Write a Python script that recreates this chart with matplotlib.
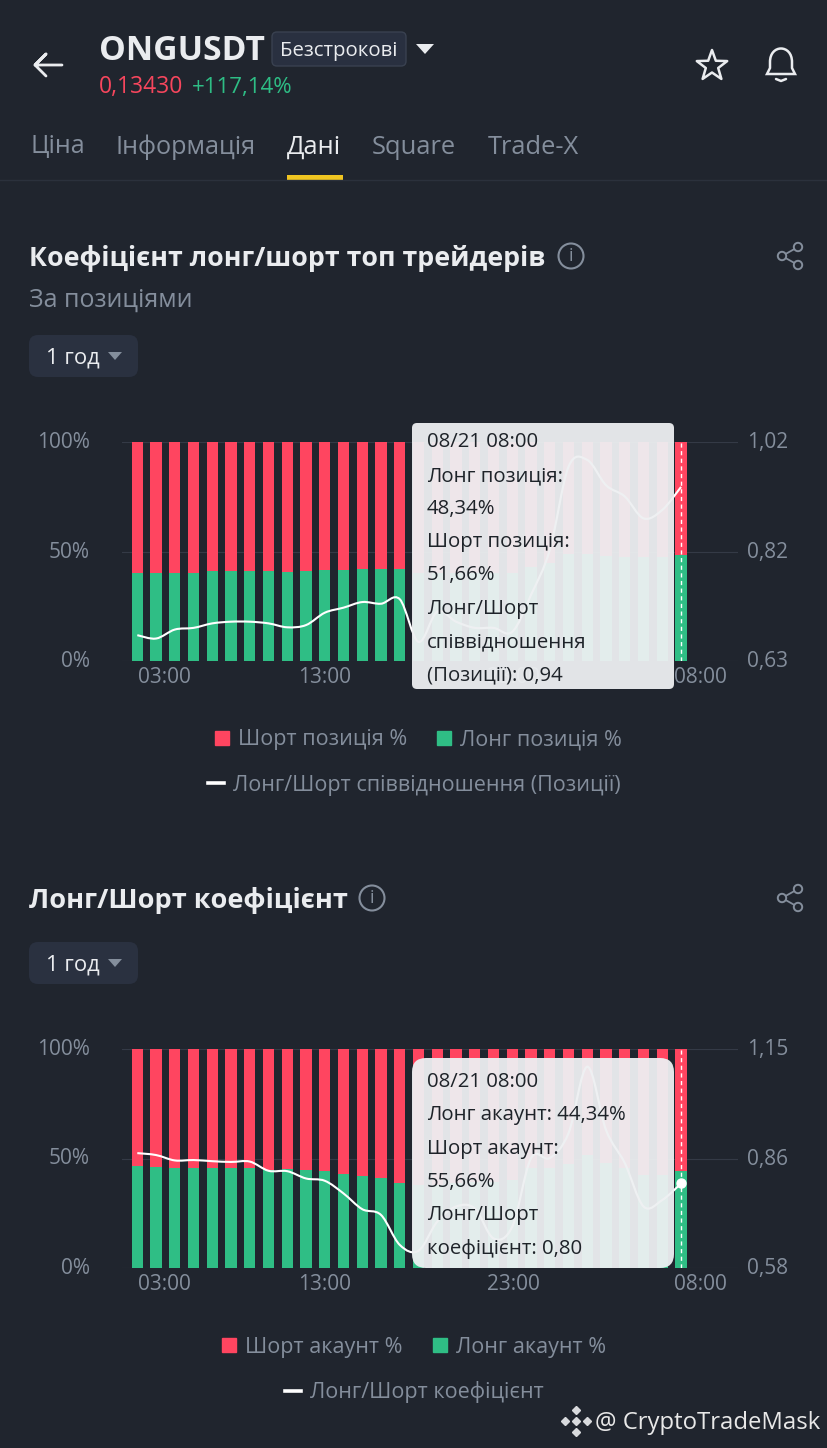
import numpy as np
import matplotlib
matplotlib.use("Agg")
import matplotlib.pyplot as plt
from matplotlib.path import Path
from matplotlib.patches import PathPatch, FancyBboxPatch, Circle, Polygon, Rectangle, Patch
from matplotlib.lines import Line2D
from matplotlib.transforms import ScaledTranslation

plt.rcParams['font.family'] = ['Open Sans', 'DejaVu Sans']

# ---------- data ----------
tick_idx = [0, 10, 20, 29]
tick_labels = ['03:00', '13:00', '23:00', '08:00']

pos_long = [40.0, 40.0, 40.0, 40.3, 41.0, 41.0, 41.0, 41.0, 40.7, 41.0, 41.7, 41.7, 42.2, 42.0, 42.2,
            40.0, 40.0, 40.0, 40.2, 40.3, 40.3, 43.0, 44.6, 48.9, 48.9, 48.0, 47.6, 47.3, 47.3, 48.34]
pos_ratio = [.676, .670, .686, .689, .697, .700, .700, .697, .690, .694, .716, .725, .735, .732, .740,
             .664, .718, .700, .689, .689, .682, .748, .828, .976, .988, .943, .923, .884, .899, .940]
acc_long = [46.6, 46.3, 45.8, 45.8, 45.8, 45.8, 45.8, 44.9, 45.0, 44.7, 44.1, 43.1, 42.0, 41.2, 39.0,
            37.9, 37.9, 38.7, 39.4, 39.4, 40.2, 45.5, 45.5, 47.5, 51.6, 48.0, 45.5, 42.5, 42.5, 44.34]
acc_ratio = [.879, .874, .860, .861, .858, .856, .857, .833, .832, .813, .807, .774, .733, .718, .640,
             .625, .701, .740, .735, .657, .688, .866, .866, .931, 1.104, .939, .853, .740, .757, .800]

pos_right_ticks = [0.63, 0.825, 1.02]
pos_right_labels = ['0,63', '0,82', '1,02']
acc_right_ticks = [0.58, 0.865, 1.15]
acc_right_labels = ['0,58', '0,86', '1,15']

BG = '#20252E'; RED = '#FF4560'; GREEN = '#2FBE85'; GRAY = '#848E9C'; LIGHT = '#EAECEF'
BTN = '#2A3140'; GRID = '#343A46'; TXT = '#1E2329'

W, H = 828, 1448
fig = plt.figure(figsize=(W / 100, H / 100), dpi=100, facecolor=BG)


def smooth(x, y):
    """Catmull-Rom style cubic Bezier path through the data points."""
    x = np.asarray(x, float); y = np.asarray(y, float)
    verts = [(x[0], y[0])]; codes = [Path.MOVETO]
    for i in range(len(x) - 1):
        a = max(i - 1, 0); b = min(i + 2, len(x) - 1)
        verts += [(x[i] + (x[i + 1] - x[a]) / 6, y[i] + (y[i + 1] - y[a]) / 6),
                  (x[i + 1] - (x[b] - x[i]) / 6, y[i + 1] - (y[b] - y[i]) / 6),
                  (x[i + 1], y[i + 1])]
        codes += [Path.CURVE4] * 3
    return Path(verts, codes)


def chart(top, bottom, long_vals, ratio, rticks, rlabels, dot):
    L, R = 122, 738
    ax = fig.add_axes([L / W, 1 - bottom / H, (R - L) / W, (bottom - top) / H])
    ax.set_zorder(1); ax.patch.set_visible(False)
    xs = np.arange(len(long_vals))
    # bar i centre = 137.3 + 18.75 i px
    ax.set_xlim((L - 137.3) / 18.75, (R - 137.3) / 18.75)
    ax.set_ylim(0, 100)
    lv = np.array(long_vals)
    b1 = ax.bar(xs, lv, width=0.6, color=GREEN, zorder=2)
    b2 = ax.bar(xs, 100 - lv, bottom=lv, width=0.6, color=RED, zorder=2)
    ax.set_yticks([0, 50, 100], ['0%', '50%', '100%'])
    ax.set_xticks(tick_idx, tick_labels)
    ax.grid(axis='y', color=GRID, lw=0.8, zorder=0)
    ax.tick_params(axis='y', length=0, pad=23, labelsize=15, labelcolor=GRAY)
    ax.tick_params(axis='x', length=0, pad=4.5, labelsize=15, labelcolor=GRAY)
    for s in ax.spines.values():
        s.set_visible(False)
    shifts = [27, 0, 1, 19]
    for lab, sh in zip(ax.get_xticklabels(), shifts):
        lab.set_transform(lab.get_transform() + ScaledTranslation(sh / 100, 0, fig.dpi_scale_trans))
    for lab in ax.get_yticklabels():
        lab.set_transform(lab.get_transform() + ScaledTranslation(0, 2 / 100, fig.dpi_scale_trans))
    ax.axvline(xs[-1], color='white', lw=1, ls=(0, (3, 2.5)), zorder=3)

    ax2 = ax.twinx()
    ax2.set_zorder(2); ax2.patch.set_visible(False)
    ax2.set_ylim(rticks[0], rticks[-1])
    ax2.set_yticks(rticks, rlabels)
    ax2.tick_params(axis='y', length=0, pad=6.5, labelsize=15, labelcolor=GRAY)
    for lab in ax2.get_yticklabels():
        lab.set_transform(lab.get_transform() + ScaledTranslation(0, 2 / 100, fig.dpi_scale_trans))
    for s in ax2.spines.values():
        s.set_visible(False)
    ax2.add_patch(PathPatch(smooth(xs, ratio), fc='none', ec='white', lw=1.5, zorder=4))
    if dot:
        ax2.plot(xs[-1], ratio[-1], 'o', color='white', ms=6.5, zorder=5)
    return b2, b1


def legend(handles, labels, cx, cy, ncol=2, hl=0.65, cs=1.4):
    fig.legend(handles, labels, loc='center', bbox_to_anchor=(cx / W, 1 - cy / H), ncol=ncol,
               frameon=False, fontsize=15.5, labelcolor=GRAY, handlelength=hl, handleheight=0.65,
               handletextpad=0.42, columnspacing=cs, borderpad=0, borderaxespad=0)


rp, gp = chart(442, 661, pos_long, pos_ratio, pos_right_ticks, pos_right_labels, False)
ra, ga = chart(1049, 1268, acc_long, acc_ratio, acc_right_ticks, acc_right_labels, True)

sq_r = Patch(color=RED); sq_g = Patch(color=GREEN)
line_h = Line2D([0], [0], color='white', lw=2.6)
legend([sq_r, sq_g], ['Шорт позиція %', 'Лонг позиція %'], 418.5, 740)
legend([line_h], ['Лонг/Шорт співвідношення (Позиції)'], 414, 785, ncol=1, hl=0.75)
legend([sq_r, sq_g], ['Шорт акаунт %', 'Лонг акаунт %'], 414, 1347)
legend([line_h], ['Лонг/Шорт коефіцієнт'], 414, 1392, ncol=1, hl=0.75)

# ---------- overlay in pixel coordinates: app chrome and tooltips ----------
ov = fig.add_axes([0, 0, 1, 1], zorder=5)
ov.set_xlim(0, W); ov.set_ylim(H, 0); ov.axis('off')


def T(x, y, s, size=13.5, color=LIGHT, weight='normal', ha='left'):
    return ov.text(x, y + 2, s, fontsize=size, color=color, fontweight=weight, ha=ha, va='center')


def icon_line(xs, ys, color=LIGHT, lw=1.8):
    ov.add_line(Line2D(xs, ys, color=color, lw=lw, solid_capstyle='round', solid_joinstyle='round'))


def info(x, y):
    ov.add_patch(Circle((x, y), 12.5, fc='none', ec=GRAY, lw=1.5))
    T(x, y - 2, 'i', 13, GRAY, ha='center')


def share(x, y):
    pts = [(-8, 0), (8, -9), (8, 9)]
    icon_line([x + 8, x - 8, x + 8], [y - 9, y, y + 9], GRAY, 1.3)
    for dx, dy in pts:
        ov.add_patch(Circle((x + dx, y + dy), 4.2, fc=BG, ec=GRAY, lw=1.4, zorder=5))


def button(y0, y1):
    ov.add_patch(FancyBboxPatch((29, y0), 109, y1 - y0, boxstyle='round,pad=0,rounding_size=9', fc=BTN, ec='none'))
    T(46, (y0 + y1) / 2, '1 год', 15.8)
    ym = (y0 + y1) / 2
    ov.add_patch(Polygon([(108, ym - 4), (122, ym - 4), (115, ym + 4)], fc=GRAY, ec='none'))


# header
icon_line([62, 35, 46, 35, 46], [65, 65, 54, 65, 76], LIGHT, 2)
T(99, 49, 'ONGUSDT', 24.2, '#EAECEF', 'bold')
ov.add_patch(FancyBboxPatch((272, 32), 134, 34, boxstyle='round,pad=0,rounding_size=5', fc='#293040', ec='#394150', lw=1))
T(339, 49, 'Безстрокові', 14.7, LIGHT, ha='center')
ov.add_patch(Polygon([(416, 44), (434, 44), (425, 54)], fc=LIGHT, ec='none'))
T(99, 85, '0,13430', 16.5, '#F6465D')
T(192, 85, '+117,14%', 16, '#2EBD85')

# star
ang = np.deg2rad(np.arange(-90, 270, 36))
rad = np.where(np.arange(10) % 2 == 0, 16, 6.5)
ov.add_patch(Polygon(np.c_[712 + rad * np.cos(ang), 66 + rad * np.sin(ang)], fc='none', ec=LIGHT, lw=1.8, joinstyle='round'))
# bell
bell = Path([(767, 74), (770, 68), (770, 62), (770, 44), (792, 44), (792, 62), (792, 68), (795, 74), (767, 74)],
            [Path.MOVETO, Path.LINETO, Path.LINETO, Path.CURVE4, Path.CURVE4, Path.CURVE4, Path.LINETO, Path.LINETO, Path.CLOSEPOLY])
ov.add_patch(PathPatch(bell, fc='none', ec=LIGHT, lw=1.8))
icon_line([776, 781, 786], [79, 81, 79], LIGHT, 1.8)

# tabs
for x, s, c, sz in [(31, 'Ціна', GRAY, 18), (116, 'Інформація', GRAY, 18.2), (287, 'Дані', LIGHT, 18.4),
                    (372, 'Square', GRAY, 18.4), (488, 'Trade-X', GRAY, 18.4)]:
    T(x, 145, s, sz, c)
ov.add_patch(Rectangle((287, 175), 56, 4.5, fc='#F0C521', ec='none'))
ov.add_line(Line2D([0, W], [180, 180], color='#2B313C', lw=1))

# section 1
T(29, 256, 'Коефіцієнт лонг/шорт топ трейдерів', 19.3, LIGHT, 'bold')
info(571, 256); share(790, 256)
T(29, 298, 'За позиціями', 18, GRAY)
button(335, 377)

# section 2
T(29, 898, 'Лонг/Шорт коефіцієнт', 19.5, LIGHT, 'bold')
info(372, 898); share(790, 898)
button(942, 984)

# tooltips
ov.add_patch(FancyBboxPatch((412, 423), 262, 266, boxstyle='round,pad=0,rounding_size=5', fc='#EEF0F2', ec='none', alpha=0.95))
for y, s in zip([440, 474, 507, 540, 573, 607, 640, 673],
                ['08/21 08:00', 'Лонг позиція:', '48,34%', 'Шорт позиція:', '51,66%', 'Лонг/Шорт', 'співвідношення', '(Позиції): 0,94']):
    T(427, y, s, 14.7, TXT)
ov.add_patch(FancyBboxPatch((412, 1058), 262, 210, boxstyle='round,pad=0,rounding_size=14', fc='#EEF0F2', ec='none', alpha=0.95))
for y, s in zip([1080, 1113, 1147, 1180, 1213, 1247],
                ['08/21 08:00', 'Лонг акаунт: 44,34%', 'Шорт акаунт:', '55,66%', 'Лонг/Шорт', 'коефіцієнт: 0,80']):
    T(427, y, s, 14.7, TXT)

# watermark
ov.plot([576, 565, 587, 576, 576], [1421, 1421, 1421, 1410, 1432], 'D', color='#D8DADD', ms=4.5)
T(595, 1421, '@ CryptoTradeMask', 17.2, '#E8E8E8')

fig.savefig('out.png', dpi=100, facecolor=BG)
